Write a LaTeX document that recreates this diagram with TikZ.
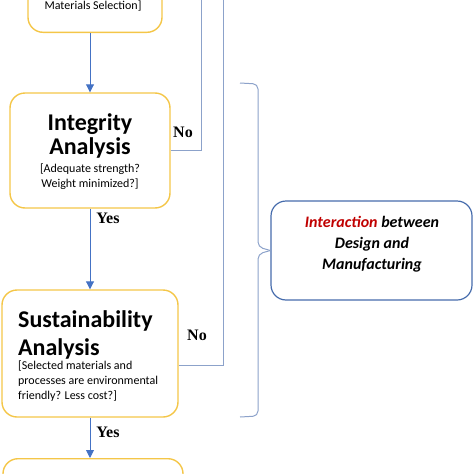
\documentclass[tikz,border=0pt]{standalone}
\usepackage{fontspec}
\setmainfont{Carlito}
\newfontfamily\answerfont{Liberation Serif}
\usetikzlibrary{positioning, arrows.meta}
\definecolor{boxgold}{RGB}{244,198,72}
\definecolor{flowblue}{RGB}{68,114,196}
\definecolor{loopblue}{RGB}{140,162,202}
\definecolor{teamblue}{RGB}{70,108,172}
\definecolor{keyred}{RGB}{192,0,0}

\begin{document}
\begin{tikzpicture}[
		x=1pt, y=-1pt,
		stepbox/.style={draw=boxgold, line width=1.4pt, rounded corners=15pt, inner sep=0pt},
		teambox/.style={draw=teamblue, line width=1.2pt, rounded corners=15pt, inner sep=0pt},
		flow/.style={flowblue, line width=0.9pt, -{Triangle[width=8pt, length=8pt]}},
		backline/.style={loopblue, line width=1pt},
		answer/.style={font=\answerfont\bfseries\fontsize{16}{16}\selectfont, inner sep=0pt},
		steptitle/.style={font=\bfseries\fontsize{24}{24}\selectfont, inner sep=0pt},
		stepnote/.style={font=\fontsize{12}{15}\selectfont, inner sep=0pt}
		]
		\useasboundingbox (0,0) rectangle (474,474);
		\clip (0,0) rectangle (474,474);
		
		% ==========================================
		% 1. Materials selection (cut by the top edge)
		% ==========================================
		\node[stepbox, minimum width=134pt, minimum height=120pt, anchor=south] (sel) at (95,33) {};
		\node[stepnote, anchor=base] (seltext) at (93,9) {Materials Selection]};
		
		% ==========================================
		% 2. Integrity analysis
		% ==========================================
		\node[stepbox, minimum width=160pt, minimum height=115pt] (integ) at (90,150.5) {};
		\node[steptitle, align=center, anchor=north] (integtitle) at (90,113) {Integrity\\Analysis};
		\node[stepnote, align=center, anchor=north] (integnote) at (90,164) {[Adequate strength?\\Weight minimized?]};
		
		% ==========================================
		% 3. Sustainability analysis
		% ==========================================
		\node[stepbox, minimum width=176pt, minimum height=127pt] (sust) at (90,353.5) {};
		\node[steptitle, align=left, anchor=north west] (susttitle) at (18,310) {Sustainability\\[4pt]Analysis};
		\node[stepnote, align=left, anchor=north west] (sustnote) at (18,361) {[Selected materials and\\processes are environmental\\friendly? Less cost?]};
		
		% next step (cut by the bottom edge)
		\node[stepbox, minimum width=180pt, minimum height=60pt, anchor=north] (next) at (93,458) {};
		
		% ==========================================
		% 4. Flow and feedback lines
		% ==========================================
		\draw[flow] (integ.north |- sel.south) -- (integ.north);
		\draw[flow] (integ.south) -- (sust.north);
		\draw[flow] (sust.south) -- (sust.south |- next.north);
		\node[answer] (yes1) at (108,218) {Yes};
		\node[answer] (yes2) at (108,432) {Yes};
		
		\coordinate (back1) at (201,-5);
		\coordinate (back2) at (223,-5);
		\draw[backline] (integ.east) -| (back1);
		\draw[backline] ([yshift=-12pt]sust.east) -| (back2);
		\node[answer] (no1) at (183,132) {No};
		\node[answer] (no2) at (197,335) {No};
		
		% ==========================================
		% 5. Interaction between design and manufacturing
		% ==========================================
		\node[teambox, minimum width=201pt, minimum height=99pt] (inter) at (371.5,250.5) {};
		\node[font=\bfseries\itshape\fontsize{16}{21}\selectfont, align=center, inner sep=0pt] (intertext) at (372,244)
		{\textcolor{keyred}{Interaction} between\\Design and\\Manufacturing};
		
		% brace grouping the two analyses
		\draw[backline, rounded corners=5pt] (240,83) -- (258,84) -- (258,247) -- (inter.west);
		\draw[backline, rounded corners=5pt] (inter.west) -- (258,254) -- (258,416) -- (240,417);
		
	\end{tikzpicture}
\end{document}
